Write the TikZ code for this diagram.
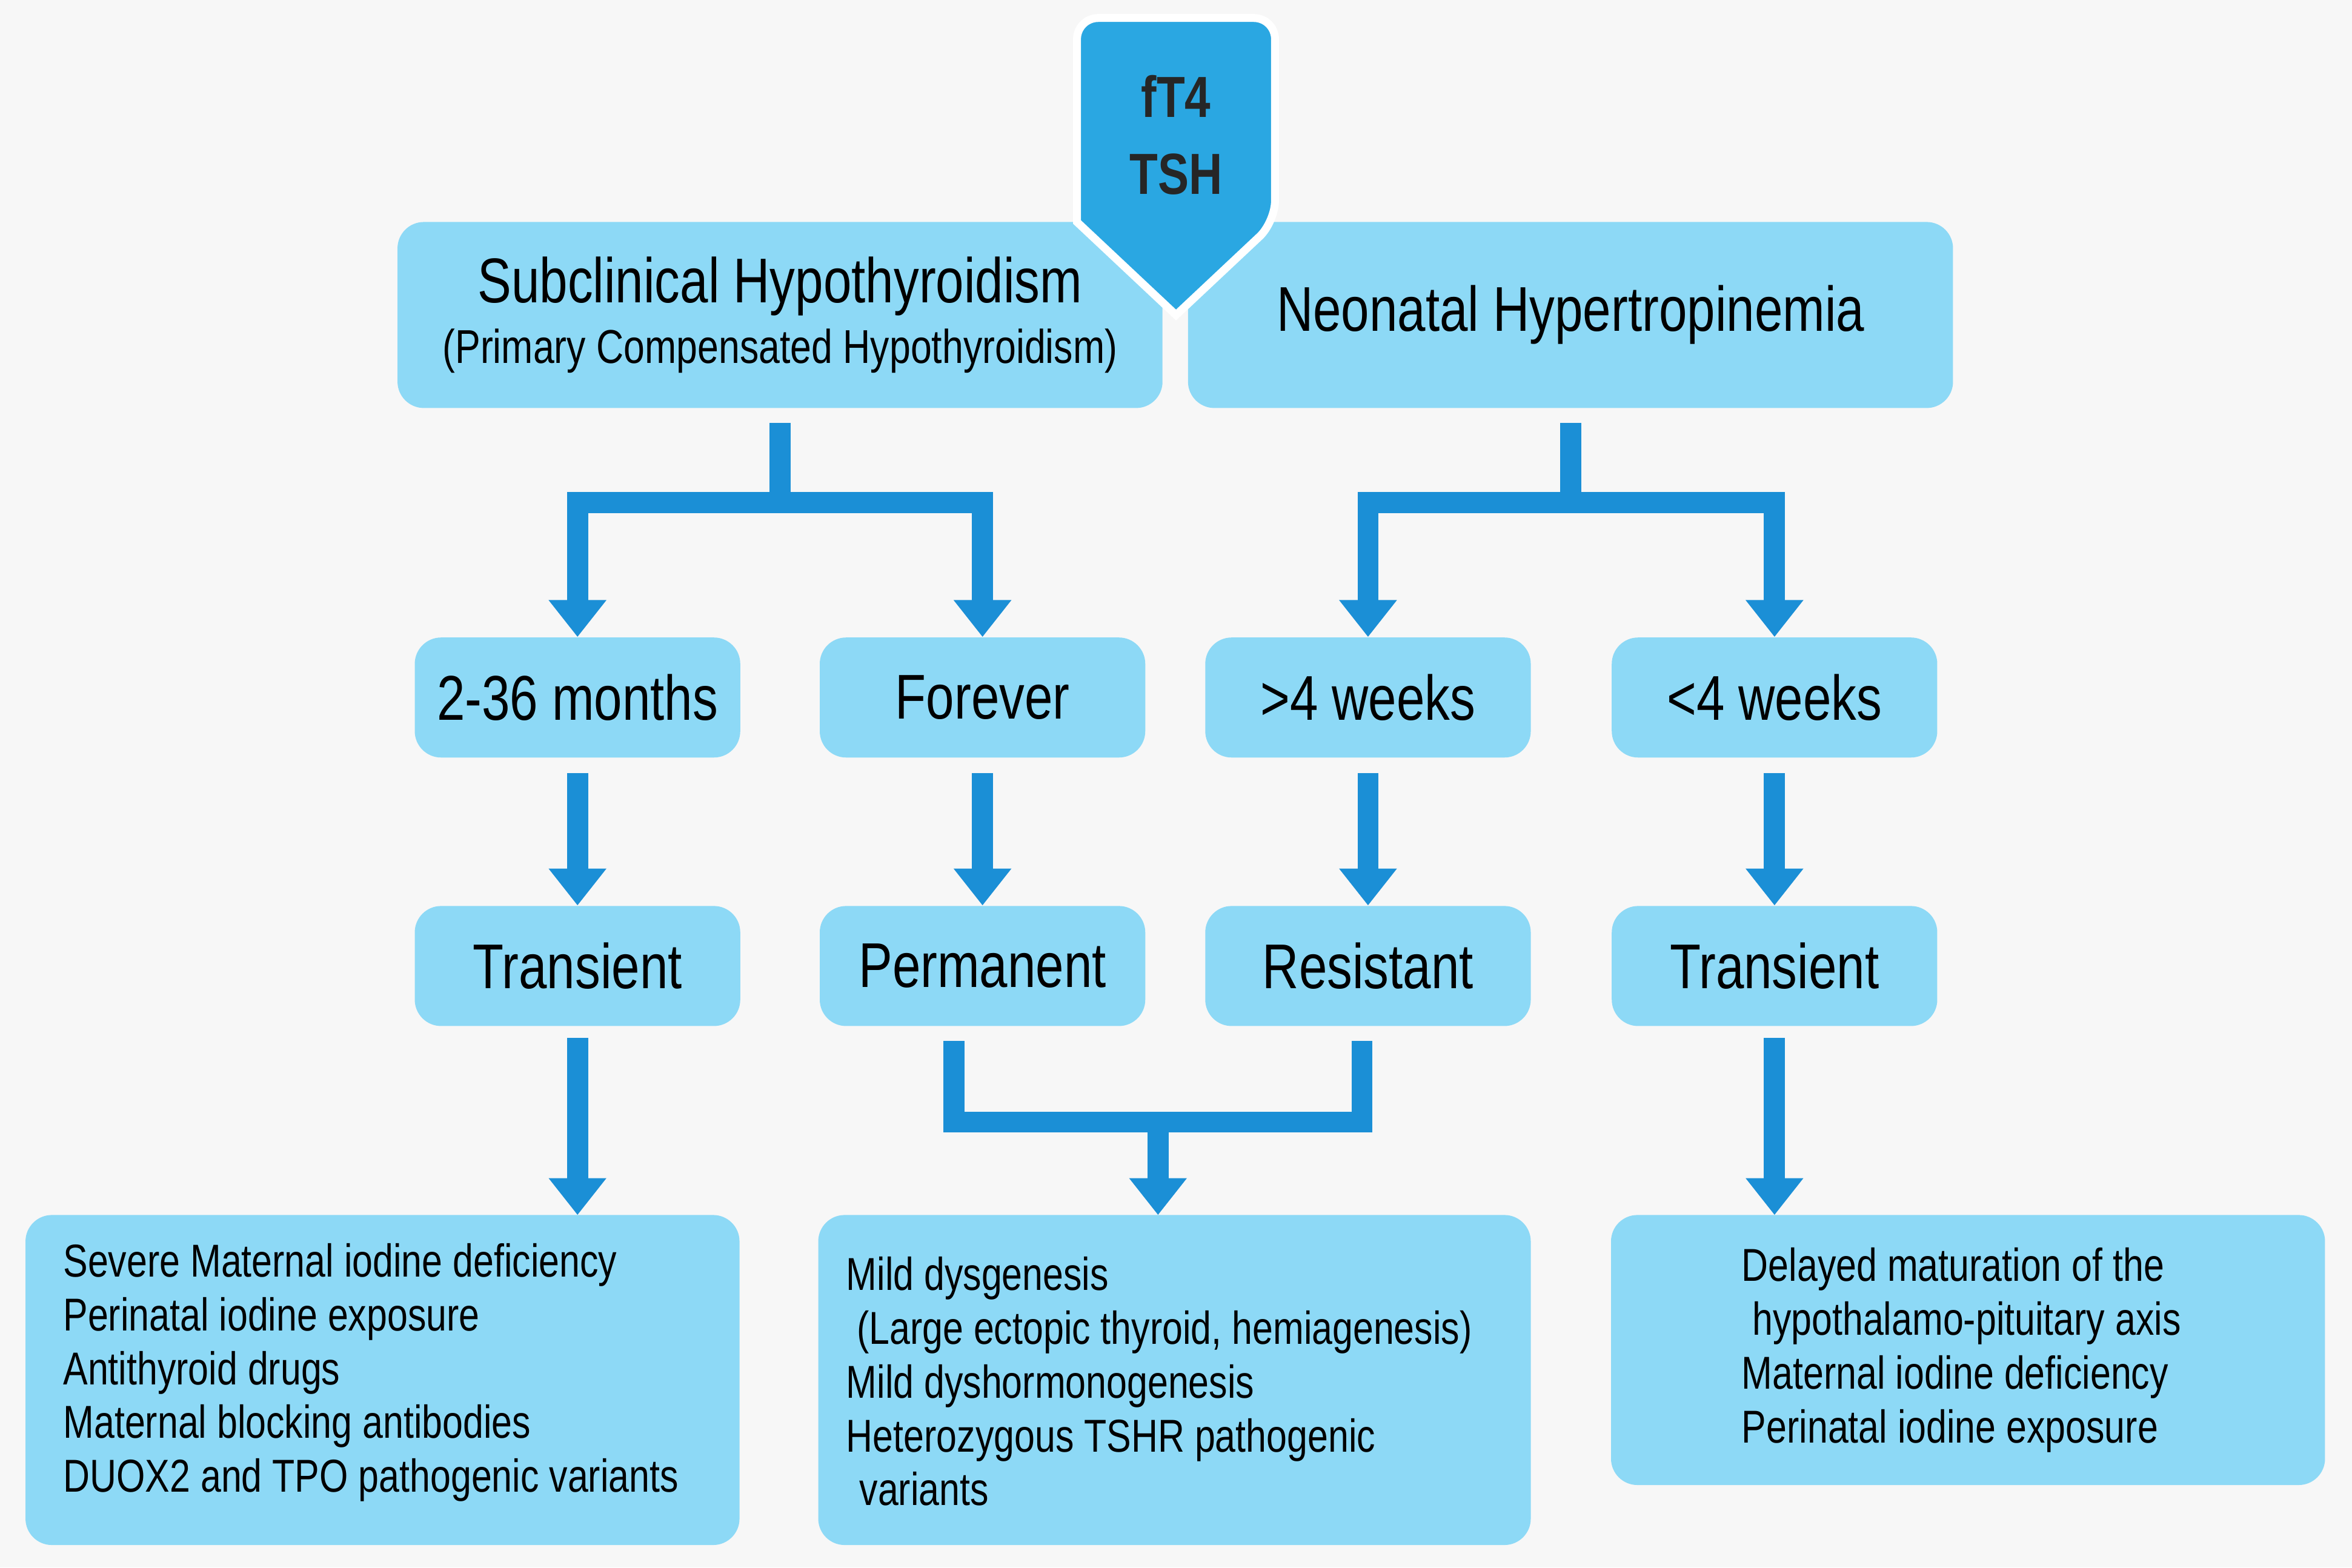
\documentclass[tikz,border=0pt]{standalone}
\usepackage{fontspec}
\setmainfont{Liberation Sans}[FakeStretch=0.8]
\usetikzlibrary{arrows.meta}
\definecolor{boxc}{HTML}{8DD9F6}
\definecolor{arr}{HTML}{1B8FD6}
\definecolor{topc}{HTML}{2AA7E2}
\definecolor{bg}{HTML}{F7F7F7}
\begin{document}
\begin{tikzpicture}[x=0.02cm,y=-0.02cm,
  box/.style={fill=boxc,rounded corners=10pt,inner sep=0pt},
  big/.style={font=\fontsize{24}{28}\selectfont},
  small/.style={font=\fontsize{17.5}{20.4}\selectfont},
  flow/.style={draw=arr,line width=8pt},
  tip/.style={flow,-{Triangle[width=21pt,length=14pt]}}]
\fill[bg] (0,0) rectangle (1568,1045);
\useasboundingbox (0,0) rectangle (1568,1045);
% level 1
\node[box,minimum width=510*0.02cm,minimum height=124*0.02cm,align=center] (sub) at (520,210)
  {\fontsize{24}{28}\selectfont Subclinical Hypothyroidism\\[4pt]\fontsize{18}{22}\selectfont(Primary Compensated Hypothyroidism)};
\node[box,big,minimum width=510*0.02cm,minimum height=124*0.02cm] (neo) at (1047,210) {Neonatal Hypertropinemia};
% top pentagon
\filldraw[fill=topc,draw=white,line width=3pt,rounded corners=8pt] (718,12) -- (850,12) -- (850,148)[sharp corners] -- (784,210) -- (718,148) [rounded corners=8pt]-- cycle;
\node[font=\bfseries\fontsize{22}{29}\selectfont,align=center,text=black!85] (top) at (784,90) {fT4\\TSH};
% row 1
\foreach \n/\x/\t in {a/385/2-36 months,b/655/Forever,c/912/>4 weeks,d/1183/<4 weeks}
  \node[box,big,minimum width=217*0.02cm,minimum height=80*0.02cm] (\n1) at (\x,465) {\t};
\foreach \n/\x/\t in {a/385/Transient,b/655/Permanent,c/912/Resistant,d/1183/Transient}
  \node[box,big,minimum width=217*0.02cm,minimum height=80*0.02cm] (\n2) at (\x,644) {\t};
% bottom boxes
\node[box,minimum width=476*0.02cm,minimum height=220*0.02cm] (L) at (255,920) {};
\node[box,minimum width=475*0.02cm,minimum height=220*0.02cm] (M) at (783,920) {};
\node[box,minimum width=476*0.02cm,minimum height=180*0.02cm] (R) at (1312,900) {};
\node[small,align=left,anchor=west] (Lt) at (36,915) {Severe Maternal iodine deficiency\\Perinatal iodine exposure\\Antithyroid drugs\\Maternal blocking antibodies\\DUOX2 and TPO pathogenic variants};
\node[small,align=left,anchor=west] (Mt) at (558,921) {Mild dysgenesis\\\hspace*{4pt}(Large ectopic thyroid, hemiagenesis)\\Mild dyshormonogenesis\\Heterozygous TSHR pathogenic\\\hspace*{5pt}variants};
\node[small,align=left,anchor=west] (Rt) at (1155,900) {Delayed maturation of the\\\hspace*{4pt}hypothalamo-pituitary axis\\Maternal iodine deficiency\\Perinatal iodine exposure};
% tree arrows
\coordinate (s1) at (520,282); \coordinate (s2) at (520,335);
\draw[flow] (s1) -- (s2);
\draw[tip] (s2) -| (a1.north);
\draw[tip] (s2) -| (b1.north);
\coordinate (n1) at (1047,282); \coordinate (n2) at (1047,335);
\draw[flow] (n1) -- (n2);
\draw[tip] (n2) -| (c1.north);
\draw[tip] (n2) -| (d1.north);
\foreach \n in {a,b,c,d} \draw[tip] ([yshift=-10*0.02cm]\n1.south) -- (\n2.north);
\coordinate (la) at (385,692); \coordinate (lb) at (385,810);
\coordinate (ra) at (1183,692); \coordinate (rb) at (1183,810);
\draw[tip] (la) -- (lb);
\draw[tip] (ra) -- (rb);
\coordinate (p1) at (636,694); \coordinate (p2) at (908,694);
\coordinate (pm) at (772,748); \coordinate (pe) at (772,810);
\draw[flow,line cap=butt] (p1) |- (pm) -| (p2);
\draw[tip] (pm) -- (pe);
\end{tikzpicture}
\end{document}
